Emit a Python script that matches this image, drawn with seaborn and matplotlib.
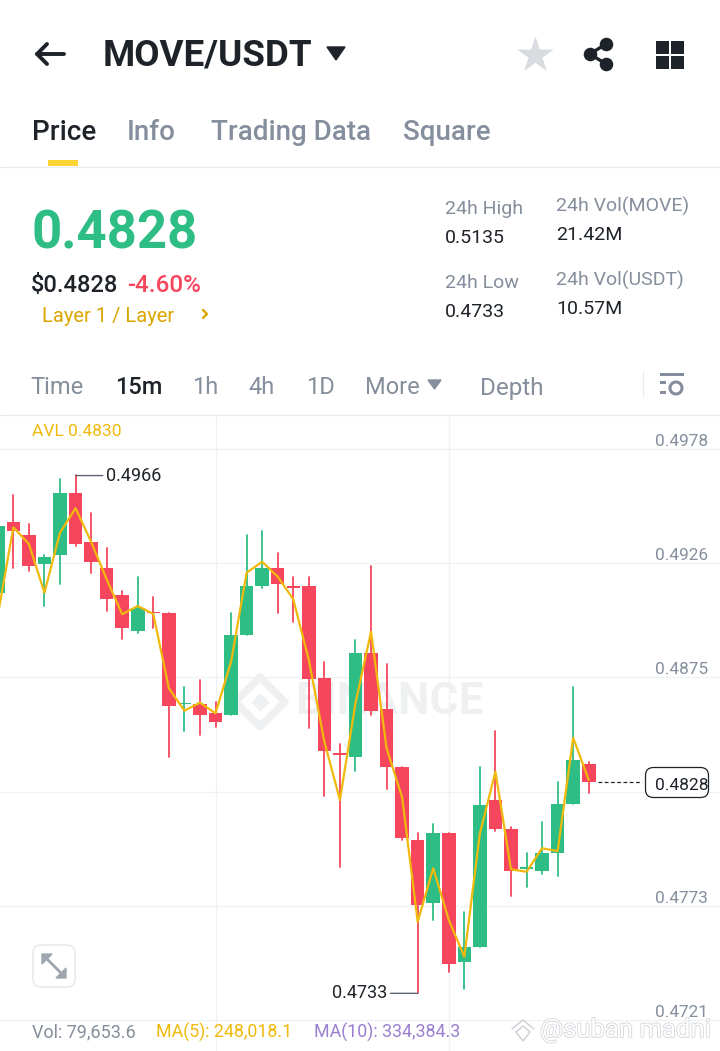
"""
plot.py

Redraws the MOVE/USDT 15m candlestick screen with seaborn and matplotlib.
"""

import matplotlib
matplotlib.use("Agg")
import matplotlib.patheffects as pe
import matplotlib.pyplot as plt
from matplotlib.patches import FancyBboxPatch, Rectangle
import pandas as pd
import seaborn as sns

# candle values, oldest first
highs = [0.49433, 0.49572, 0.49442, 0.49302, 0.49643, 0.49662, 0.49493, 0.49333, 0.49142, 0.49202,
         0.49112, 0.49043, 0.48710, 0.48740, 0.48640, 0.49043, 0.49392, 0.49412, 0.49313, 0.49202,
         0.49202, 0.48820, 0.48452, 0.48920, 0.49253, 0.48811, 0.48350, 0.48050, 0.48091, 0.48050,
         0.47697, 0.48350, 0.48510, 0.48080, 0.47960, 0.48100, 0.48280, 0.48710, 0.48370]
lows = [0.49133, 0.49244, 0.49232, 0.49073, 0.49172, 0.49343, 0.49223, 0.49052, 0.48923, 0.48953,
        0.48973, 0.48392, 0.48512, 0.48492, 0.48530, 0.48582, 0.48942, 0.49153, 0.49043, 0.49002,
        0.48523, 0.48219, 0.47900, 0.48332, 0.48582, 0.48251, 0.48020, 0.47330, 0.47660, 0.47427,
        0.47348, 0.47540, 0.48060, 0.47769, 0.47810, 0.47868, 0.47859, 0.48180, 0.48230]
opens = [0.49133, 0.49452, 0.49392, 0.49262, 0.49302, 0.49583, 0.49362, 0.49243, 0.49122, 0.48962,
         0.49047, 0.49043, 0.48632, 0.48632, 0.48590, 0.48582, 0.48942, 0.49163, 0.49243, 0.49163,
         0.49163, 0.48750, 0.48410, 0.48392, 0.48860, 0.48609, 0.48350, 0.48019, 0.47738, 0.48050,
         0.47470, 0.47540, 0.48200, 0.48068, 0.47889, 0.47880, 0.47960, 0.48180, 0.48361]
closes = [0.49433, 0.49412, 0.49253, 0.49293, 0.49583, 0.49353, 0.49272, 0.49103, 0.48973, 0.49063,
          0.49043, 0.48623, 0.48638, 0.48582, 0.48552, 0.48941, 0.49163, 0.49243, 0.49173, 0.49155,
          0.48743, 0.48422, 0.48401, 0.48860, 0.48602, 0.48350, 0.48030, 0.47727, 0.48050, 0.47461,
          0.47538, 0.48179, 0.48071, 0.47880, 0.47898, 0.47960, 0.48180, 0.48380, 0.48281]
ma5 = [0.49032, 0.49427, 0.49352, 0.49133, 0.49403, 0.49513, 0.49362, 0.49193, 0.49036, 0.49073,
       0.49037, 0.48703, 0.48602, 0.48638, 0.48590, 0.48822, 0.49223, 0.49272, 0.49205, 0.49103,
       0.48830, 0.48462, 0.48200, 0.48636, 0.48957, 0.48433, 0.48212, 0.47652, 0.47893, 0.47660,
       0.47495, 0.48050, 0.48327, 0.47888, 0.47877, 0.47983, 0.47970, 0.48480, 0.48290]

# the app truncates its axis labels, the gridlines sit at even steps
price_ticks = [0.49780, 0.49266, 0.48752, 0.48238, 0.47724, 0.47210]
tick_labels = ["0.4978", "0.4926", "0.4875", "0.4824", "0.4773", "0.4721"]
time_grid = [14, 29]
last_price = 0.4828
high_mark = (5, 0.4966)
low_mark = (27, 0.4733)

GREEN = "#2ebd85"
RED = "#f6465d"
DARK = "#1e2329"
GREY = "#848e9c"
LIGHT = "#eff1f3"
GOLD = "#f0b90b"
FONT = "Roboto"

W, H = 720, 1051

sns.set_theme(style="white")
plt.rcParams["font.family"] = [FONT, "DejaVu Sans"]

fig = plt.figure(figsize=(W / 100, H / 100), dpi=100, facecolor="white")


def pixel_axes(zorder):
    a = fig.add_axes([0, 0, 1, 1], zorder=zorder)
    a.set_xlim(0, W)
    a.set_ylim(H, 0)
    a.axis("off")
    return a


back = pixel_axes(0)
front = pixel_axes(2)

# watermark sits under the candles
back.text(295, 702, "BINANCE", color="#eef0f2", fontsize=32, fontweight="bold", va="center", family=FONT)
back.scatter([260], [702], marker="D", s=640, facecolor="none", edgecolor="#eef0f2", linewidth=5.5)
back.scatter([260], [702], marker="D", s=70, color="#eef0f2")

# chart
ax = fig.add_axes([0, 0, 1, (H - 415) / H], zorder=1, facecolor="none")

candles = pd.DataFrame({"high": highs, "low": lows, "open": opens, "close": closes, "ma5": ma5})
candles["idx"] = candles.index
candles["up"] = candles["close"] >= candles["open"]
candle_colors = candles["up"].map({True: GREEN, False: RED})

wicks = candles.melt(id_vars=["idx", "up"], value_vars=["high", "low"], value_name="price")
sns.lineplot(data=wicks, x="idx", y="price", units="idx", estimator=None, hue="up",
             palette={True: GREEN, False: RED}, linewidth=1.3, legend=False, ax=ax, zorder=2)

body_low = candles[["open", "close"]].min(axis=1)
body_high = candles[["open", "close"]].max(axis=1)
ax.bar(candles["idx"], body_high - body_low, bottom=body_low, width=0.87,
       color=candle_colors, linewidth=0, zorder=3)

sns.lineplot(data=candles, x="idx", y="ma5", color=GOLD, linewidth=1.6, ax=ax, zorder=4)

# one candle = 15.55 px, one pixel = 0.000045 in price
ax.set_xlim(0.1415, 46.44)
ax.set_ylim(0.470705, 0.499325)
ax.set_xlabel("")
ax.set_ylabel("")
ax.set_xticks(time_grid, ["", ""])
ax.set_yticks(price_ticks, tick_labels)
ax.yaxis.tick_right()
ax.tick_params(axis="y", length=0, pad=-8.6, labelsize=12.4, labelcolor=GREY)
ax.tick_params(axis="x", length=0)
for tick in ax.yaxis.get_major_ticks():
    tick.label2.set_ha("right")
    tick.label2.set_va("bottom")
ax.grid(True, color=LIGHT, linewidth=0.9)
ax.set_axisbelow(True)
sns.despine(ax=ax, left=True, right=True, top=True, bottom=True)

# high and low callouts
ax.annotate(f"{high_mark[1]:.4f}", xy=high_mark, xytext=(22, 0), textcoords="offset points",
            va="center", ha="left", fontsize=13, color=DARK, zorder=5,
            arrowprops=dict(arrowstyle="-", color="#5e6673", lw=1, shrinkA=0, shrinkB=0))
ax.annotate(f"{low_mark[1]:.4f}", xy=low_mark, xytext=(-22, 0), textcoords="offset points",
            va="center", ha="right", fontsize=13, color=DARK, zorder=5,
            arrowprops=dict(arrowstyle="-", color="#5e6673", lw=1, shrinkA=0, shrinkB=0))

# last price marker
ax.plot([38.6, 41.4], [closes[-1], closes[-1]], color=DARK, linewidth=0.9, linestyle=(0, (3, 2)), zorder=4)
front.add_patch(FancyBboxPatch((648, 770), 58, 25, boxstyle="round,pad=2.5,rounding_size=8",
                               facecolor="white", edgecolor=DARK, linewidth=0.9))
front.text(682, 786, f"{last_price:.4f}", ha="center", va="center", fontsize=12.5, color=DARK)


def label(x, y, s, color=GREY, size=15, weight="normal", ha="left"):
    # va=center lands about 2 px high for this font
    return front.text(x, y + 2, s, color=color, fontsize=size, fontweight=weight, ha=ha, va="center", family=FONT)


# header
front.plot([37, 64], [54, 54], color=DARK, linewidth=2.8, solid_capstyle="round")
front.plot([47, 37, 47], [44, 54, 64], color=DARK, linewidth=2.8, solid_capstyle="round")
label(103, 54, "MOVE/USDT", DARK, 26.5, "bold")
front.fill([327, 345, 336], [47, 47, 60], color=DARK)
front.scatter([535], [55], marker="*", s=760, color="#d8dbe0", linewidth=0)
share_x = [606, 590, 606]
share_y = [44, 54, 64]
front.plot(share_x, share_y, color=DARK, linewidth=2.4)
front.scatter(share_x, share_y, s=95, color=DARK, linewidth=0)
for gx in (656, 671):
    for gy in (41, 56):
        front.add_patch(Rectangle((gx, gy), 12.5, 12.5, color=DARK, linewidth=0))

# tabs
label(32, 131, "Price", DARK, 20, "medium")
label(127, 131, "Info", GREY, 20, "medium")
label(211, 131, "Trading Data", GREY, 20, "medium")
label(403, 131, "Square", GREY, 20, "medium")
front.add_patch(Rectangle((48, 160), 30, 6, color="#fcd535", linewidth=0))
front.plot([0, W], [166.5, 166.5], color="#eaecef", linewidth=0.9)

# price block
label(31, 232, "0.4828", GREEN, 38, "bold")
label(31, 283, "$0.4828", DARK, 17, "medium")
label(127, 283, "-4.60%", RED, 17.5, "medium")
label(42, 314, "Layer 1 / Layer", "#dba602", 14.5)
front.plot([203, 207, 203], [310, 314, 318], color="#dba602", linewidth=1.7)

label(445, 207, "24h High", GREY, 14)
label(445, 236, "0.5135", DARK, 14)
label(445, 281, "24h Low", GREY, 14)
label(445, 310, "0.4733", DARK, 14)
label(556, 204, "24h Vol(MOVE)", GREY, 14)
label(556, 233, "21.42M", DARK, 14)
label(556, 278, "24h Vol(USDT)", GREY, 14)
label(556, 307, "10.57M", DARK, 14)

# interval row
label(30, 386, "Time", GREY, 17)
label(115, 386, "15m", DARK, 17, "medium")
label(192, 386, "1h", GREY, 17)
label(248, 386, "4h", GREY, 17)
label(306, 386, "1D", GREY, 17)
label(365, 386, "More", GREY, 17)
front.fill([428, 441, 434.5], [380, 380, 389], color=GREY)
label(480, 386, "Depth", GREY, 17.5)
front.plot([643, 643], [372, 396], color="#e6e8ea", linewidth=0.9)
front.add_patch(Rectangle((660, 373), 24, 3, color=GREY, linewidth=0))
front.add_patch(Rectangle((660, 381), 6, 3, color=GREY, linewidth=0))
front.add_patch(Rectangle((660, 391), 6, 3, color=GREY, linewidth=0))
front.scatter([676], [388], s=75, facecolor="none", edgecolor=GREY, linewidth=2.2)
front.plot([0, W], [415, 415], color="#eaecef", linewidth=0.9)

label(32, 430, "AVL 0.4830", GOLD, 12.5)

# expand button
front.add_patch(FancyBboxPatch((37, 949), 34, 34, boxstyle="round,pad=4,rounding_size=8",
                               facecolor="white", edgecolor="#e8eaed", linewidth=1.2))
front.plot([44, 64], [956, 976], color="#a0a6b0", linewidth=2)
front.fill([42, 52, 42], [954, 954, 964], color="#a0a6b0")
front.fill([66, 66, 56], [978, 968, 978], color="#a0a6b0")

# footer
label(32, 1030, "Vol: 79,653.6", GREY, 13)
label(156, 1030, "MA(5): 248,018.1", GOLD, 12.8)
label(314, 1030, "MA(10): 334,384.3", "#9b7fd1", 12.8)

# user watermark, outlined letters
mark = label(540, 1028, "@suban madni", "white", 18.5)
mark.set_path_effects([pe.withStroke(linewidth=1.1, foreground="#cfd3d8")])
front.plot([512, 523, 534], [1029, 1020, 1029], color="#cfd3d8", linewidth=1.1)
front.plot([516, 523, 530, 523, 516], [1032, 1026, 1032, 1041, 1032], color="#cfd3d8", linewidth=1.1)

fig.savefig("out.png", dpi=100)
plt.close(fig)
